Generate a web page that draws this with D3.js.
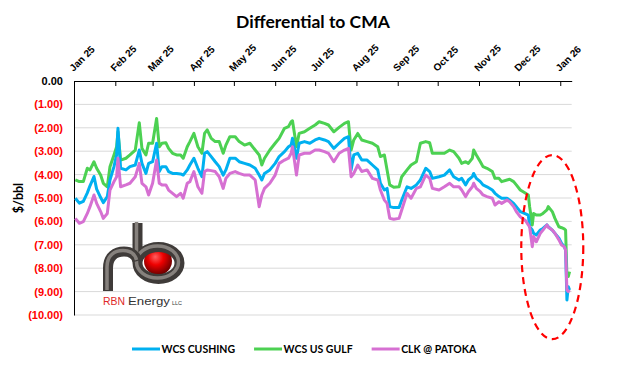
<!DOCTYPE html>
<html>
<head>
<meta charset="utf-8">
<script src="https://cdn.jsdelivr.net/npm/d3@7"></script>
<style>
  body { margin: 0; background: #fff; }
  svg { display: block; font-family: Lato, "Liberation Sans", sans-serif; }
</style>
</head>
<body>
<div id="chart"></div>
<script>
// sample dates
const dates = [
  "2025-01-02","2025-01-05","2025-01-08","2025-01-11","2025-01-13","2025-01-16","2025-01-18","2025-01-21","2025-01-23","2025-01-26","2025-01-28","2025-01-31",
  "2025-02-02","2025-02-03","2025-02-05","2025-02-09","2025-02-12","2025-02-16","2025-02-19","2025-02-21","2025-02-24","2025-02-26",
  "2025-03-01","2025-03-04","2025-03-06","2025-03-08","2025-03-11","2025-03-13","2025-03-16","2025-03-19","2025-03-22","2025-03-24","2025-03-27","2025-03-29",
  "2025-04-01","2025-04-04","2025-04-07","2025-04-09","2025-04-11","2025-04-14","2025-04-17","2025-04-20","2025-04-23","2025-04-25","2025-04-28",
  "2025-05-02","2025-05-05","2025-05-09","2025-05-13","2025-05-17","2025-05-20","2025-05-22","2025-05-24","2025-05-28",
  "2025-06-01","2025-06-04","2025-06-08","2025-06-11","2025-06-13","2025-06-14","2025-06-17","2025-06-19","2025-06-23","2025-06-27",
  "2025-07-01","2025-07-04","2025-07-08","2025-07-11","2025-07-15","2025-07-19","2025-07-23","2025-07-26","2025-07-28","2025-07-30",
  "2025-08-02","2025-08-05","2025-08-09","2025-08-13","2025-08-17","2025-08-19","2025-08-22","2025-08-24","2025-08-26","2025-08-29",
  "2025-09-02","2025-09-04","2025-09-08","2025-09-11","2025-09-15","2025-09-18","2025-09-22","2025-09-25","2025-09-27",
  "2025-10-02","2025-10-06","2025-10-10","2025-10-13","2025-10-17","2025-10-19","2025-10-22","2025-10-24","2025-10-27","2025-10-28","2025-10-30",
  "2025-11-02","2025-11-04","2025-11-07","2025-11-11","2025-11-13","2025-11-16","2025-11-18","2025-11-22","2025-11-24","2025-11-27","2025-11-29",
  "2025-12-02","2025-12-06","2025-12-08","2025-12-09","2025-12-11","2025-12-12","2025-12-14","2025-12-17","2025-12-19","2025-12-22","2025-12-23","2025-12-26","2025-12-28","2025-12-31",
  "2026-01-02","2026-01-04","2026-01-05","2026-01-06","2026-01-07","2026-01-08"
];

// $/bbl differentials
const wcsCushing = [
  -5.01,-5.22,-5.14,-4.78,-4.48,-4.08,-4.62,-4.98,-5.2,-4.94,-4.23,-3.66,
  -3.16,-2.02,-3.73,-3.8,-3.66,-3.59,-2.95,-3.52,-3.95,-3.52,
  -3.45,-2.66,-3.87,-3.66,-3.66,-3.87,-3.95,-3.95,-3.97,-4.02,-3.8,-3.59,
  -3.3,-3.73,-4.09,-3.09,-3.02,-3.23,-3.45,-3.66,-4.02,-3.8,-3.3,
  -3.3,-3.45,-3.52,-3.59,-3.73,-4.02,-4.23,-3.95,-3.8,
  -3.52,-3.23,-3.02,-2.81,-2.74,-2.45,-3.3,-2.66,-2.59,-2.66,
  -2.52,-2.45,-2.52,-2.59,-2.88,-2.66,-2.45,-2.38,-3.8,-3.16,
  -3.09,-3.38,-3.38,-3.59,-3.8,-4.37,-4.66,-4.59,-5.37,-5.41,
  -5.41,-5.09,-4.52,-4.59,-4.44,-4.23,-3.73,-3.87,-4.16,
  -4.09,-4.02,-3.8,-4.09,-4.23,-4.16,-4.44,-4.23,-4.09,-3.95,-4.16,
  -4.3,-4.44,-4.52,-4.66,-4.8,-4.94,-5.01,-5.01,-5.09,-5.23,-5.37,
  -5.58,-5.68,-5.73,-6.23,-6.37,-6.51,-6.58,-6.37,-6.3,-6.15,-6.23,-6.37,-6.51,-6.72,
  -6.94,-7.08,-7.22,-9.36,-8.79,-8.93
];
const wcsGulf = [
  -4.23,-4.3,-4.3,-3.73,-3.8,-3.45,-3.73,-4.02,-4.37,-4.52,-3.66,-3.16,
  -2.81,-2.17,-3.38,-3.3,-3.16,-2.95,-1.78,-2.88,-3.16,-2.66,
  -2.66,-1.6,-2.81,-2.66,-2.64,-2.88,-3.09,-3.16,-3.16,-3.3,-2.81,-2.59,
  -2.24,-2.81,-3.09,-2.24,-2.09,-2.45,-2.59,-2.59,-3.09,-2.74,-2.38,
  -2.38,-2.59,-2.74,-2.66,-2.95,-3.16,-3.59,-3.3,-2.95,
  -2.66,-2.45,-2.02,-1.95,-1.74,-1.7,-2.81,-2.24,-2.17,-2.02,
  -1.88,-1.74,-1.81,-1.88,-2.17,-1.98,-1.81,-1.74,-2.95,-2.52,
  -2.24,-2.52,-2.59,-2.66,-2.81,-3.23,-3.16,-3.8,-4.44,-4.54,
  -4.52,-4.09,-3.8,-3.59,-3.45,-2.66,-2.59,-2.64,-3.09,
  -3.09,-3.09,-2.95,-3.02,-3.3,-3.52,-3.45,-3.52,-3.3,-2.95,-3.16,
  -3.45,-3.66,-3.73,-3.87,-4.16,-4.16,-4.3,-4.23,-4.2,-4.3,-4.44,
  -4.66,-4.8,-4.87,-5.37,-6.15,-5.66,-5.73,-5.73,-5.66,-5.51,-5.37,-5.58,-5.87,-6.23,
  -6.27,-6.32,-6.37,-8.36,-8.36,-8.15
];
const clkPatoka = [
  -5.87,-6.08,-6.01,-5.66,-5.37,-4.87,-5.23,-5.58,-5.87,-5.66,-4.66,-4.3,
  -4.09,-3.3,-4.52,-4.44,-4.37,-4.09,-3.52,-4.37,-4.52,-4.87,
  -4.37,-3.38,-4.37,-4.44,-4.44,-4.66,-4.8,-4.94,-4.8,-5.01,-4.37,-4.3,
  -3.87,-4.52,-4.8,-3.87,-3.8,-3.83,-3.87,-4.09,-4.59,-4.16,-3.95,
  -3.87,-3.95,-4.02,-4.02,-4.23,-5.37,-4.87,-4.59,-4.37,
  -4.02,-3.52,-3.38,-3.3,-3.09,-2.81,-4.02,-3.16,-3.09,-3.09,
  -2.95,-2.95,-3.02,-3.09,-3.45,-3.09,-2.95,-2.88,-4.09,-3.95,
  -3.59,-3.87,-3.8,-4.16,-4.23,-4.66,-5.09,-5.23,-5.87,-5.91,
  -5.87,-5.51,-4.8,-5.01,-4.59,-4.52,-4.02,-4.16,-4.59,
  -4.66,-4.52,-4.37,-4.52,-4.52,-4.66,-4.94,-4.73,-4.52,-4.37,-4.59,
  -4.73,-4.87,-4.94,-5.01,-5.3,-5.16,-5.23,-5.09,-5.16,-5.37,-5.58,
  -5.8,-5.97,-6.15,-6.23,-7.08,-6.65,-6.87,-6.51,-6.37,-6.15,-6.25,-6.37,-6.51,-6.79,
  -7.01,-7.08,-7.22,-8.93,-9.0,-8.93
];

const yTicks = [0, -1, -2, -3, -4, -5, -6, -7, -8, -9, -10];
const seriesNames = ["WCS CUSHING", "WCS US GULF", "CLK @ PATOKA"];
const seriesColors = ["#00b0f0", "#4cd152", "#d670d2"];

const width = 634, height = 385;
const plot = {left: 74, right: 571.7, top: 81, bottom: 315};

const parse = d3.timeParse("%Y-%m-%d");
const days = dates.map(parse);
const series = [wcsCushing, wcsGulf, clkPatoka].map((vals, i) => ({
  name: seriesNames[i],
  color: seriesColors[i],
  values: vals.map((v, j) => ({date: days[j], value: v}))
}));

const svg = d3.select("#chart").append("svg")
  .attr("width", width)
  .attr("height", height);

const x = d3.scaleTime()
  .domain([new Date(2025, 0, 1), d3.timeHour.offset(new Date(2026, 0, 9), 14)])
  .range([plot.left, plot.right]);

const y = d3.scaleLinear()
  .domain([-10, 0])
  .range([plot.bottom, plot.top]);

// title
svg.append("text")
  .attr("x", 313).attr("y", 28)
  .attr("text-anchor", "middle")
  .style("font-size", "17.5px").style("font-weight", "bold")
  .text("Differential to CMA");

// gridlines
svg.append("g")
  .selectAll("line")
  .data(yTicks.filter(d => d !== 0))
  .enter().append("line")
  .attr("x1", plot.left).attr("x2", plot.right)
  .attr("y1", d => y(d)).attr("y2", d => y(d))
  .attr("stroke", "#d9d9d9").attr("stroke-width", 1);

// y axis
const fmt = v => v === 0 ? "0.00" : "(" + Math.abs(v).toFixed(2) + ")";
const yAxis = svg.append("g")
  .attr("transform", `translate(${plot.left},0)`)
  .call(d3.axisLeft(y).tickValues(yTicks).tickFormat(fmt).tickSize(0).tickPadding(11));
yAxis.select(".domain").attr("stroke", "#000");
yAxis.selectAll("text")
  .style("font-size", "11px").style("font-weight", "bold")
  .attr("fill", d => d < 0 ? "#ff0000" : "#000");

// x axis on top, ticks pointing into the plot
const months = d3.timeMonth.range(new Date(2025, 0, 1), new Date(2026, 0, 2));
const xAxis = svg.append("g")
  .attr("transform", `translate(0,${plot.top})`)
  .call(d3.axisTop(x).tickValues(months).tickFormat(d3.timeFormat("%b %y")).tickSizeInner(-5).tickSizeOuter(0));
xAxis.select(".domain").attr("stroke", "#000");
xAxis.selectAll(".tick line").attr("stroke", "#000");
xAxis.selectAll("text")
  .attr("x", 0).attr("y", 0).attr("dy", 0)
  .attr("text-anchor", "start")
  .attr("transform", "translate(-1,-9) rotate(-45)")
  .style("font-size", "10px").style("font-weight", "bold")
  .attr("fill", "#000");

// y title
svg.append("text")
  .attr("transform", "translate(23,198) rotate(-90)")
  .attr("text-anchor", "middle")
  .style("font-size", "12.5px").style("font-weight", "bold")
  .text("$/bbl");

// logo
const logo = svg.append("g");
const defs = svg.append("defs");
const ball = defs.append("radialGradient").attr("id", "ball")
  .attr("cx", "45%").attr("cy", "40%").attr("r", "60%").attr("fx", "40%").attr("fy", "35%");
ball.append("stop").attr("offset", "0%").attr("stop-color", "#ff6060");
ball.append("stop").attr("offset", "45%").attr("stop-color", "#ee0000");
ball.append("stop").attr("offset", "100%").attr("stop-color", "#6a0000");
logo.append("circle").attr("cx", 158).attr("cy", 261).attr("r", 14).attr("fill", "url(#ball)");
const pipes = [
  "M137.5,223 V263 A21,16 0 1 0 179.5,263 A21,16 0 1 0 137.5,263",
  "M108,291 V268 C108,256 116,251.5 124,251.5 C131,251.5 136,255 137.5,261"
];
pipes.forEach(p => {
  logo.append("path").attr("d", p).attr("fill", "none").attr("stroke", "#3f3b39").attr("stroke-width", 10);
  logo.append("path").attr("d", p).attr("fill", "none").attr("stroke", "#86817d").attr("stroke-width", 3.5)
    .attr("transform", "translate(-1,-1)");
});
logo.append("text").attr("x", 103).attr("y", 305)
  .attr("textLength", 22).attr("lengthAdjust", "spacingAndGlyphs")
  .style("font-family", "'Liberation Sans', sans-serif").style("font-size", "11px")
  .attr("fill", "#e02828").text("RBN");
logo.append("text").attr("x", 128).attr("y", 305)
  .attr("textLength", 42).attr("lengthAdjust", "spacingAndGlyphs")
  .style("font-family", "'Liberation Sans', sans-serif").style("font-size", "11.5px")
  .attr("fill", "#333").text("Energy");
logo.append("text").attr("x", 172).attr("y", 305)
  .attr("textLength", 10).attr("lengthAdjust", "spacingAndGlyphs")
  .style("font-family", "'Liberation Sans', sans-serif").style("font-size", "6px")
  .attr("fill", "#333").text("LLC");

// lines: green first, then blue, pink on top
const line = d3.line().x(d => x(d.date)).y(d => y(d.value));
[series[1], series[0], series[2]].forEach(s => {
  svg.append("path")
    .datum(s.values)
    .attr("d", line)
    .attr("fill", "none")
    .attr("stroke", s.color)
    .attr("stroke-width", 3)
    .attr("stroke-linejoin", "round");
});

// red dashed ellipse around the December drop
svg.append("ellipse")
  .attr("cx", x(new Date(2025, 11, 26)))
  .attr("cy", y(-7.1))
  .attr("rx", 31).attr("ry", 92)
  .attr("fill", "none")
  .attr("stroke", "#ff0000")
  .attr("stroke-width", 2.2)
  .attr("stroke-dasharray", "7,5");

// legend
let lx = 132;
const legend = svg.append("g").attr("transform", "translate(0,349)");
series.forEach(s => {
  legend.append("line")
    .attr("x1", lx).attr("x2", lx + 28)
    .attr("stroke", s.color).attr("stroke-width", 3);
  const t = legend.append("text")
    .attr("x", lx + 29.5).attr("dy", "0.35em")
    .style("font-size", "10.5px").style("font-weight", "bold")
    .text(s.name);
  lx += 29.5 + t.node().getComputedTextLength() + 19;
});
</script>
</body>
</html>
